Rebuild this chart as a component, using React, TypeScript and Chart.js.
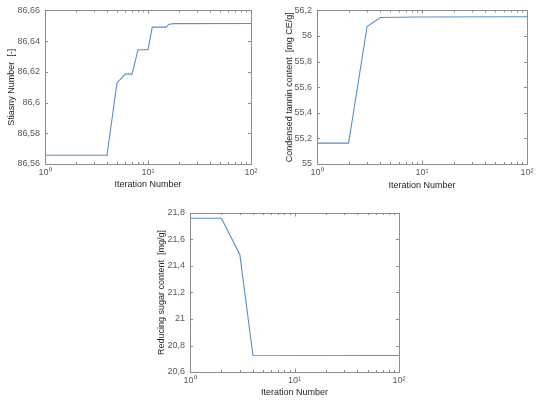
import React, { useEffect, useRef } from "react";
import { Chart, registerables } from "chart.js";

Chart.register(...registerables);

// ---------- data ----------
const stiasnyIter = [1, 4, 5, 6, 7, 8, 10, 11, 15, 16, 18, 100];
const stiasnyValues = [86.5657, 86.5657, 86.6128, 86.6185, 86.6185, 86.6344, 86.6344, 86.6491, 86.6491, 86.651, 86.6514, 86.6515];

const tanninIter = [1, 2, 3, 4, 9, 100];
const tanninValues = [55.163, 55.163, 56.074, 56.145, 56.148, 56.15];

const sugarIter = [1, 2, 3, 4, 100];
const sugarValues = [21.76, 21.76, 21.485, 20.726, 20.724];

const xTickValues = [1, 2, 3, 4, 5, 6, 7, 8, 9, 10, 20, 30, 40, 50, 60, 70, 80, 90, 100];
const xMajorTicks = [1, 10, 100];
const xMajorLabels = ["10\u2070", "10\u00b9", "10\u00b2"];

const xTitle = "Iteration Number";
const stiasnyTitle = "Stiasny Number  [-]";
const tanninTitle = "Condensed tannin content  [mg CE/g]";
const sugarTitle = "Reducing sugar content  [mg/g]";

const FONT = "'Liberation Sans', Arial, Helvetica, sans-serif";
const LINE_COLOR = "#5690c6";
const BOX_COLOR = "#8c8c8c";

const boxPlugin = {
  id: "matlabBox",
  afterDraw(chart: any) {
    const { ctx, chartArea } = chart;
    const { left, right, top, bottom } = chartArea;
    ctx.save();
    ctx.strokeStyle = BOX_COLOR;
    ctx.lineWidth = 1;
    ctx.beginPath();
    const xs = chart.scales.x;
    for (const t of xs.ticks) {
      const px = Math.round(xs.getPixelForValue(t.value)) + 0.5;
      const len = xMajorTicks.includes(t.value) ? 3.5 : 2;
      ctx.moveTo(px, bottom);
      ctx.lineTo(px, bottom - len);
      ctx.moveTo(px, top);
      ctx.lineTo(px, top + len);
    }
    const ys = chart.scales.y;
    for (const t of ys.ticks) {
      const py = Math.round(ys.getPixelForValue(t.value)) + 0.5;
      ctx.moveTo(left, py);
      ctx.lineTo(left + 3, py);
      ctx.moveTo(right, py);
      ctx.lineTo(right - 3, py);
    }
    ctx.stroke();
    ctx.strokeRect(Math.round(left) + 0.5, Math.round(top) + 0.5, Math.round(right - left), Math.round(bottom - top));
    ctx.restore();
  },
};

type PanelProps = {
  left: number;
  top: number;
  width: number;
  height: number;
  area: { left: number; right: number; top: number; bottom: number };
  iters: number[];
  values: number[];
  yMin: number;
  yMax: number;
  yStep: number;
  yTitle: string;
  yTitlePad: number;
  xTitlePad: number;
};

function Panel(p: PanelProps) {
  const ref = useRef<HTMLCanvasElement | null>(null);
  useEffect(() => {
    if (!ref.current) return;
    const chart = new Chart(ref.current, {
      type: "line",
      data: {
        datasets: [
          {
            data: p.iters.map((x, i) => ({ x, y: p.values[i] })),
            borderColor: LINE_COLOR,
            borderWidth: 1.1,
            pointRadius: 0,
            tension: 0,
            fill: false,
          },
        ],
      },
      options: {
        animation: false,
        responsive: false,
        maintainAspectRatio: false,
        events: [],
        layout: {
          padding: {
            left: 0,
            top: p.area.top,
            right: p.width - p.area.right,
            bottom: 0,
          },
        },
        plugins: { legend: { display: false }, tooltip: { enabled: false } },
        scales: {
          x: {
            type: "logarithmic",
            min: 1,
            max: 100,
            grid: { display: false, drawTicks: false, tickLength: 0 },
            border: { display: false },
            afterBuildTicks: (scale: any) => {
              scale.ticks = xTickValues.map((v) => ({ value: v, major: xMajorTicks.includes(v) }));
            },
            afterFit: (scale: any) => {
              scale.height = p.height - p.area.bottom;
            },
            ticks: {
              autoSkip: false,
              maxRotation: 0,
              padding: 3,
              color: "#5a5a5a",
              font: { family: FONT, size: 9 },
              callback: (v: any) => {
                const idx = xMajorTicks.indexOf(Number(v));
                return idx >= 0 ? xMajorLabels[idx] : "";
              },
            },
            title: {
              display: true,
              text: xTitle,
              color: "#262626",
              font: { family: FONT, size: 9 },
              padding: { top: 0, bottom: p.xTitlePad },
            },
          },
          y: {
            type: "linear",
            min: p.yMin,
            max: p.yMax,
            grid: { display: false, drawTicks: false, tickLength: 0 },
            border: { display: false },
            afterFit: (scale: any) => {
              scale.width = p.area.left;
            },
            ticks: {
              stepSize: p.yStep,
              padding: 5,
              color: "#5a5a5a",
              font: { family: FONT, size: 9 },
              callback: (v: any) => String(Number(Number(v).toFixed(4))).replace(".", ","),
            },
            title: {
              display: true,
              text: p.yTitle,
              color: "#262626",
              font: { family: FONT, size: 9 },
              padding: { top: p.yTitlePad, bottom: 0 },
            },
          },
        },
      },
      plugins: [boxPlugin],
    } as any);
    return () => chart.destroy();
  }, []);
  return (
    <canvas
      ref={ref}
      width={p.width}
      height={p.height}
      style={{ position: "absolute", left: p.left, top: p.top, width: p.width, height: p.height }}
    />
  );
}

export default function App() {
  useEffect(() => {
    document.body.style.margin = "0";
  }, []);
  return (
    <div style={{ position: "fixed", left: 0, top: 0, width: 540, height: 407, background: "#ffffff", overflow: "hidden" }}>
      <Panel
        left={0}
        top={0}
        width={270}
        height={200}
        area={{ left: 45, right: 251, top: 5, bottom: 164 }}
        iters={stiasnyIter}
        values={stiasnyValues}
        yMin={86.56}
        yMax={86.66}
        yStep={0.02}
        yTitle={stiasnyTitle}
        yTitlePad={6.6}
        xTitlePad={9.6}
      />
      <Panel
        left={270}
        top={0}
        width={270}
        height={200}
        area={{ left: 47, right: 257, top: 5, bottom: 164 }}
        iters={tanninIter}
        values={tanninValues}
        yMin={55}
        yMax={56.2}
        yStep={0.2}
        yTitle={tanninTitle}
        yTitlePad={14.6}
        xTitlePad={8.6}
      />
      <Panel
        left={140}
        top={200}
        width={280}
        height={207}
        area={{ left: 50, right: 259, top: 13, bottom: 172 }}
        iters={sugarIter}
        values={sugarValues}
        yMin={20.6}
        yMax={21.8}
        yStep={0.2}
        yTitle={sugarTitle}
        yTitlePad={16.6}
        xTitlePad={8.6}
      />
    </div>
  );
}
